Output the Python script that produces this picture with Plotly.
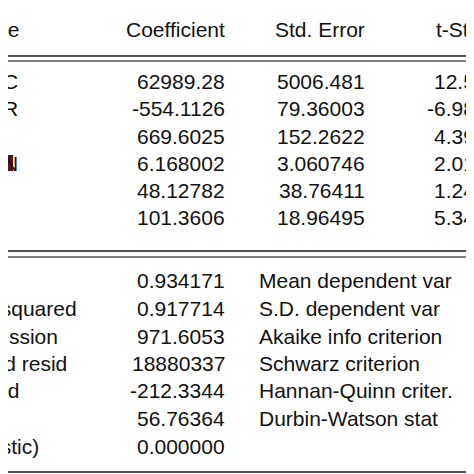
import plotly.graph_objects as go

# header and coefficient table
headers = ["Variable", "Coefficient", "Std. Error", "t-Statistic"]
var_names = ["C", "R", "", "N", "", ""]
coefs = ["62989.28", "-554.1126", "669.6025", "6.168002", "48.12782", "101.3606"]
std_errs = ["5006.481", "79.36003", "152.2622", "3.060746", "38.76411", "18.96495"]
t_stats = ["12.58131", "-6.982220", "4.397612", "2.015194", "1.241561", "5.344627"]

# summary statistics block
stat_names = ["R-squared", "Adjusted R-squared", "S.E. of regression", "Sum squared resid",
              "Log likelihood", "F-statistic", "Prob(F-statistic)"]
stat_values = ["0.934171", "0.917714", "971.6053", "18880337", "-212.3344", "56.76364", "0.000000"]
stat_names2 = ["Mean dependent var", "S.D. dependent var", "Akaike info criterion",
               "Schwarz criterion", "Hannan-Quinn criter.", "Durbin-Watson stat", ""]

W = 474.0
FONT = dict(family="Liberation Sans, Arial", size=21, color="#111")
fig = go.Figure()

def txt(x, y, s, anchor):
    # positions in pixels, converted to paper coords so cut-off text still shows
    fig.add_annotation(x=x / W, y=1 - y / W, text=s, showarrow=False, xanchor=anchor,
                       yanchor="middle", font=FONT, xref="paper", yref="paper",
                       borderpad=0)

txt(13, 22, headers[0], "right")
txt(218, 22, headers[1], "right")
txt(358, 22, headers[2], "right")
txt(515, 22, headers[3], "right")

row_y = [74, 101, 128, 155, 182, 209]
for i, y in enumerate(row_y):
    if var_names[i]:
        txt(11, y, var_names[i], "right")
    txt(218, y, coefs[i], "right")
    txt(358, y, std_errs[i], "right")
    txt(515, y, t_stats[i], "right")

# highlighted cell remnant in row 4
fig.add_shape(type="rect", x0=-2, x1=5, y0=147, y1=163, fillcolor="#5a1020",
              line=dict(width=0), xref="x", yref="y")

stat_y = [272, 300, 328, 355, 382, 410, 438]
for i, y in enumerate(stat_y):
    txt(-118, y, stat_names[i], "left")
    txt(218, y, stat_values[i], "right")
    if stat_names2[i]:
        txt(250, y, stat_names2[i], "left")

for y in [48, 53, 243, 249, 464, 470]:
    fig.add_shape(type="line", x0=0, x1=474, y0=y, y1=y, xref="x", yref="y",
                  line=dict(color="#555", width=2 if y in (48, 243, 464) else 1.5))

fig.update_xaxes(range=[0, 474], visible=False)
fig.update_yaxes(range=[474, 0], visible=False)
fig.update_layout(width=474, height=474, margin=dict(l=0, r=0, t=0, b=0),
                  plot_bgcolor="white", paper_bgcolor="white", showlegend=False)
fig.write_html("out.html")
